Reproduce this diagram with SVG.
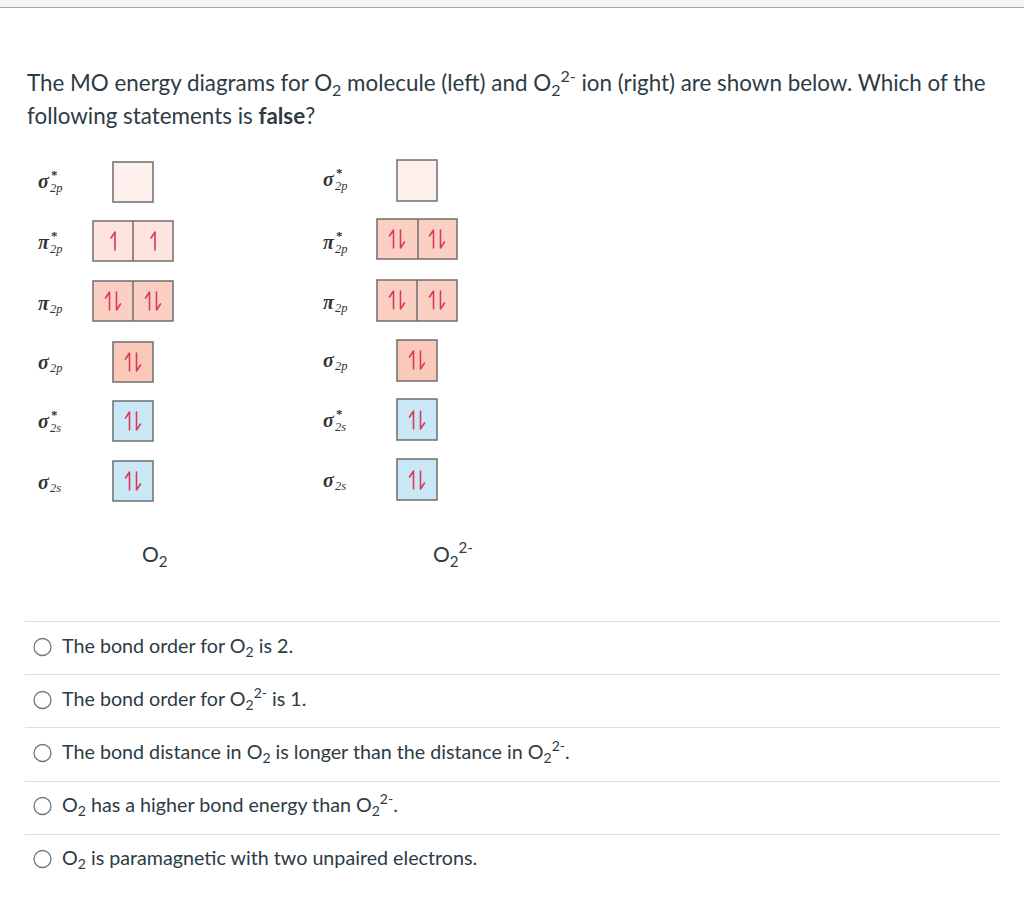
<svg xmlns="http://www.w3.org/2000/svg" xmlns:xlink="http://www.w3.org/1999/xlink" width="1024" height="903" viewBox="0 0 1024 903">
<style>
.q{font-family:Lato,"Liberation Sans",sans-serif;fill:#2d3b45;}
.lb{font-family:"Liberation Serif",serif;font-style:italic;fill:#333;font-size:20px;font-weight:bold;}
.sb{font-family:"Liberation Serif",serif;font-style:italic;fill:#333;font-size:12.5px;}
.st{font-family:"Liberation Serif",serif;fill:#333;font-size:13px;font-weight:bold;}
.box{stroke:#6e6e6e;stroke-width:1.5;}
.e{fill:none;stroke:#d83a5c;stroke-width:1.6;stroke-linecap:round;stroke-linejoin:round;}
.sep{stroke:#dcdcdc;stroke-width:1;}
.rad{fill:#fff;stroke:#777;stroke-width:1.3;}
</style>
<defs>
<path id="pair" class="e" d="M-3.5,9 V-9 L-7.5,-3 M3.5,-9 V9 L7.5,3"/>
<path id="up" class="e" d="M0,9 V-9 L-4,-3"/>
</defs>
<rect x="0" y="0" width="1024" height="7" fill="#f4f4f4"/>
<line x1="0" y1="7.5" x2="1024" y2="7.5" stroke="#a5a5a5" stroke-width="1"/>
<g id="question">
<text class="q" x="27" y="91" font-size="22.4">The MO energy diagrams for O<tspan font-size="16" dy="5">2</tspan><tspan dy="-5"> molecule (left) and O</tspan><tspan font-size="16" dy="5">2</tspan><tspan font-size="16" dy="-14">2-</tspan><tspan dy="9"> ion (right) are shown below. Which of the</tspan></text>
<text class="q" x="27" y="124" font-size="22.4">following statements is <tspan font-weight="bold">false</tspan>?</text>
</g>
<g id="left-diagram">
<g id="L-s2p-star"><text class="lb" x="38" y="188">σ</text><text class="st" x="51" y="179">*</text><text class="sb" x="50" y="192">2p</text>
<rect class="box" x="113" y="162" width="40" height="40" fill="#fdf0ec"/></g>
<g id="L-p2p-star"><text class="lb" x="38" y="249">π</text><text class="st" x="51" y="240">*</text><text class="sb" x="50" y="253">2p</text>
<rect class="box" x="93" y="221" width="80" height="40" fill="#fde4dc"/><line class="box" x1="133" y1="221" x2="133" y2="261"/>
<use xlink:href="#up" x="115" y="241"/><use xlink:href="#up" x="155" y="241"/></g>
<g id="L-p2p"><text class="lb" x="38" y="310">π</text><text class="sb" x="50" y="313">2p</text>
<rect class="box" x="93" y="281" width="80" height="40" fill="#fbd0c3"/><line class="box" x1="133" y1="281" x2="133" y2="321"/>
<use xlink:href="#pair" x="113" y="301"/><use xlink:href="#pair" x="153" y="301"/></g>
<g id="L-s2p"><text class="lb" x="38" y="369">σ</text><text class="sb" x="50" y="372">2p</text>
<rect class="box" x="113" y="342" width="40" height="40" fill="#fbc9b9"/>
<use xlink:href="#pair" x="133" y="362"/></g>
<g id="L-s2s-star"><text class="lb" x="38" y="428">σ</text><text class="st" x="51" y="419">*</text><text class="sb" x="50" y="432">2s</text>
<rect class="box" x="113" y="401" width="40" height="40" fill="#c9e7f5"/>
<use xlink:href="#pair" x="133" y="421"/></g>
<g id="L-s2s"><text class="lb" x="38" y="489">σ</text><text class="sb" x="50" y="492">2s</text>
<rect class="box" x="113" y="461" width="40" height="40" fill="#c9e7f5"/>
<use xlink:href="#pair" x="133" y="481"/></g>
<text class="q" x="142" y="562" font-size="21">O<tspan font-size="15" dy="5">2</tspan></text>
</g>
<g id="right-diagram">
<g id="R-s2p-star"><text class="lb" x="323" y="186">σ</text><text class="st" x="336" y="177">*</text><text class="sb" x="335" y="190">2p</text>
<rect class="box" x="397" y="160" width="40" height="41" fill="#fdf0ec"/></g>
<g id="R-p2p-star"><text class="lb" x="323" y="249">π</text><text class="st" x="336" y="240">*</text><text class="sb" x="335" y="253">2p</text>
<rect class="box" x="377" y="219" width="80" height="40" fill="#fbd0c3"/><line class="box" x1="418" y1="219" x2="418" y2="259"/>
<use xlink:href="#pair" x="397" y="239"/><use xlink:href="#pair" x="437" y="239"/></g>
<g id="R-p2p"><text class="lb" x="323" y="309">π</text><text class="sb" x="335" y="312">2p</text>
<rect class="box" x="377" y="280" width="80" height="41" fill="#fbd0c3"/><line class="box" x1="417" y1="280" x2="417" y2="321"/>
<use xlink:href="#pair" x="397" y="300"/><use xlink:href="#pair" x="437" y="300"/></g>
<g id="R-s2p"><text class="lb" x="323" y="367">σ</text><text class="sb" x="335" y="370">2p</text>
<rect class="box" x="397" y="340" width="40" height="41" fill="#fbc9b9"/>
<use xlink:href="#pair" x="417" y="360"/></g>
<g id="R-s2s-star"><text class="lb" x="323" y="427">σ</text><text class="st" x="336" y="418">*</text><text class="sb" x="335" y="431">2s</text>
<rect class="box" x="397" y="399" width="40" height="41" fill="#c9e7f5"/>
<use xlink:href="#pair" x="417" y="420"/></g>
<g id="R-s2s"><text class="lb" x="323" y="487">σ</text><text class="sb" x="335" y="490">2s</text>
<rect class="box" x="397" y="459" width="40" height="41" fill="#c9e7f5"/>
<use xlink:href="#pair" x="417" y="480"/></g>
<text class="q" x="433" y="562" font-size="21">O<tspan font-size="15" dy="5">2</tspan><tspan font-size="15" dy="-14">2-</tspan></text>
</g>
<g id="options">
<line class="sep" x1="25" y1="621.5" x2="1000" y2="621.5"/>
<line class="sep" x1="25" y1="674.5" x2="1000" y2="674.5"/>
<line class="sep" x1="25" y1="727.5" x2="1000" y2="727.5"/>
<line class="sep" x1="25" y1="781.5" x2="1000" y2="781.5"/>
<line class="sep" x1="25" y1="834.5" x2="1000" y2="834.5"/>
<circle class="rad" cx="42.5" cy="647" r="8.5"/>
<circle class="rad" cx="42.5" cy="700" r="8.5"/>
<circle class="rad" cx="42.5" cy="753" r="8.5"/>
<circle class="rad" cx="42.5" cy="806" r="8.5"/>
<circle class="rad" cx="42.5" cy="859" r="8.5"/>
<text class="q" x="62" y="653" font-size="19.7">The bond order for O<tspan font-size="14" dy="4">2</tspan><tspan dy="-4"> is 2.</tspan></text>
<text class="q" x="62" y="706" font-size="19.7">The bond order for O<tspan font-size="14" dy="4">2</tspan><tspan font-size="14" dy="-12">2-</tspan><tspan dy="8"> is 1.</tspan></text>
<text class="q" x="62" y="759" font-size="19.7">The bond distance in O<tspan font-size="14" dy="4">2</tspan><tspan dy="-4"> is longer than the distance in O</tspan><tspan font-size="14" dy="4">2</tspan><tspan font-size="14" dy="-12">2-</tspan><tspan dy="8">.</tspan></text>
<text class="q" x="62" y="812" font-size="19.7">O<tspan font-size="14" dy="4">2</tspan><tspan dy="-4"> has a higher bond energy than O</tspan><tspan font-size="14" dy="4">2</tspan><tspan font-size="14" dy="-12">2-</tspan><tspan dy="8">.</tspan></text>
<text class="q" x="62" y="865" font-size="19.7">O<tspan font-size="14" dy="4">2</tspan><tspan dy="-4"> is paramagnetic with two unpaired electrons.</tspan></text>
</g>
</svg>
